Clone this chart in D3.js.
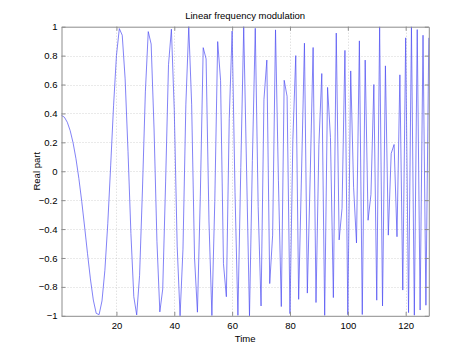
<!DOCTYPE html>
<html><head><meta charset="utf-8">
<script src="https://cdn.jsdelivr.net/npm/d3@7"></script>
<style>
html,body{margin:0;padding:0;background:#fff;}
svg{display:block;}
text{font-family:"Liberation Sans",Arial,Helvetica,sans-serif;fill:#000;}
</style></head>
<body>
<div id="chart"></div>
<script>
const title = "Linear frequency modulation";
const xLabel = "Time";
const yLabel = "Real part";
const xTicks = [20, 40, 60, 80, 100, 120];
const yTicks = [-1, -0.8, -0.6, -0.4, -0.2, 0, 0.2, 0.4, 0.6, 0.8, 1];
const timeIndex = d3.range(1, 129);
const realPart = [
 0.386, 0.374, 0.339, 0.281, 0.197, 0.087, -0.049, -0.209, -0.386, -0.570,
 -0.745, -0.891, -0.983, -0.992, -0.897, -0.685, -0.363, 0.037, 0.453, 0.800,
 0.987, 0.941, 0.639, 0.136, -0.431, -0.868, -0.994, -0.720, -0.123, 0.549,
 0.966, 0.880, 0.292, -0.486, -0.973, -0.815, -0.074, 0.737, 0.983, 0.419,
 -0.518, -1.000, -0.539, 0.464, 1.000, 0.464, -0.600, -0.975, -0.172, 0.855,
 0.777, -0.351, -0.998, -0.209, 0.897, 0.629, -0.639, -0.868, 0.363, 0.970,
 -0.148, -0.997, 0.025, 1.000, 0.000, -1.000, 0.074, 0.989, -0.245, -0.932,
 0.496, 0.769, -0.777, -0.442, 0.978, -0.062, -0.936, 0.629, 0.518, -0.985,
 0.221, 0.800, -0.886, -0.012, 0.886, -0.843, -0.025, 0.856, -0.908, 0.184,
 0.676, -0.997, 0.580, 0.233, -0.874, 0.956, -0.475, -0.257, 0.836, -0.992,
 0.694, -0.111, -0.496, 0.902, -0.991, 0.769, -0.339, -0.160, 0.600, -0.892,
 0.999, -0.932, 0.729, -0.442, 0.123, 0.185, -0.453, 0.667, -0.822, 0.923,
 -0.978, 0.999, -0.996, 0.980, -0.960, 0.941, -0.927, 0.923
];

const W = 474, H = 355;
const L = 61.5, R = 428.8, T = 26.7, B = 315.8;

const svg = d3.select("#chart").append("svg").attr("width", W).attr("height", H);

const x = d3.scaleLinear().domain([1, 128]).range([L, R]);
const y = d3.scaleLinear().domain([-1, 1]).range([B, T]);

// grid
const grid = svg.append("g").attr("stroke", "#b8b8b8").attr("stroke-width", 0.6).attr("stroke-dasharray", "1,2");
grid.selectAll("line.gx").data(xTicks).join("line")
  .attr("x1", d => Math.round(x(d)) + 0.5).attr("x2", d => Math.round(x(d)) + 0.5)
  .attr("y1", T).attr("y2", B);
grid.selectAll("line.gy").data(yTicks.filter(d => d > -1 && d < 1)).join("line")
  .attr("class", "gy")
  .attr("x1", L).attr("x2", R)
  .attr("y1", d => Math.round(y(d)) + 0.5).attr("y2", d => Math.round(y(d)) + 0.5);

// data line
const line = d3.line().x((d, i) => x(timeIndex[i])).y(d => y(d));
svg.append("path").datum(realPart)
  .attr("fill", "none").attr("stroke", "#4c4cf2").attr("stroke-width", 0.7)
  .attr("d", line);

// axes (box with inward ticks)
const tickLen = 4;
const axB = svg.append("g").attr("transform", `translate(0,${B})`)
  .call(d3.axisBottom(x).tickValues(xTicks).tickSizeInner(-tickLen).tickSizeOuter(0).tickPadding(6));
const axT = svg.append("g").attr("transform", `translate(0,${T})`)
  .call(d3.axisTop(x).tickValues(xTicks).tickSizeInner(-tickLen).tickSizeOuter(0).tickFormat(""));
const axL = svg.append("g").attr("transform", `translate(${L},0)`)
  .call(d3.axisLeft(y).tickValues(yTicks).tickSizeInner(-tickLen).tickSizeOuter(0).tickPadding(4)
    .tickFormat(d => d3.format("")(d)));
const axR = svg.append("g").attr("transform", `translate(${R},0)`)
  .call(d3.axisRight(y).tickValues(yTicks).tickSizeInner(-tickLen).tickSizeOuter(0).tickFormat(""));
[axB, axT, axL, axR].forEach(a => {
  a.selectAll("path.domain").attr("stroke", "#8c8c8c").attr("stroke-width", 1);
  a.selectAll(".tick line").attr("stroke", "#8c8c8c");
  a.selectAll("text").attr("font-size", 9.5).attr("font-family", '"Liberation Sans",Arial,sans-serif').attr("fill", "#000");
});

svg.append("text").attr("x", (L + R) / 2).attr("y", 19).attr("text-anchor", "middle")
  .attr("font-size", 9.5).text(title);
svg.append("text").attr("x", (L + R) / 2).attr("y", 342).attr("text-anchor", "middle")
  .attr("font-size", 9.5).text(xLabel);
svg.append("text").attr("transform", `translate(40,${(T + B) / 2}) rotate(-90)`)
  .attr("text-anchor", "middle").attr("font-size", 9.5).text(yLabel);
</script>
</body></html>
